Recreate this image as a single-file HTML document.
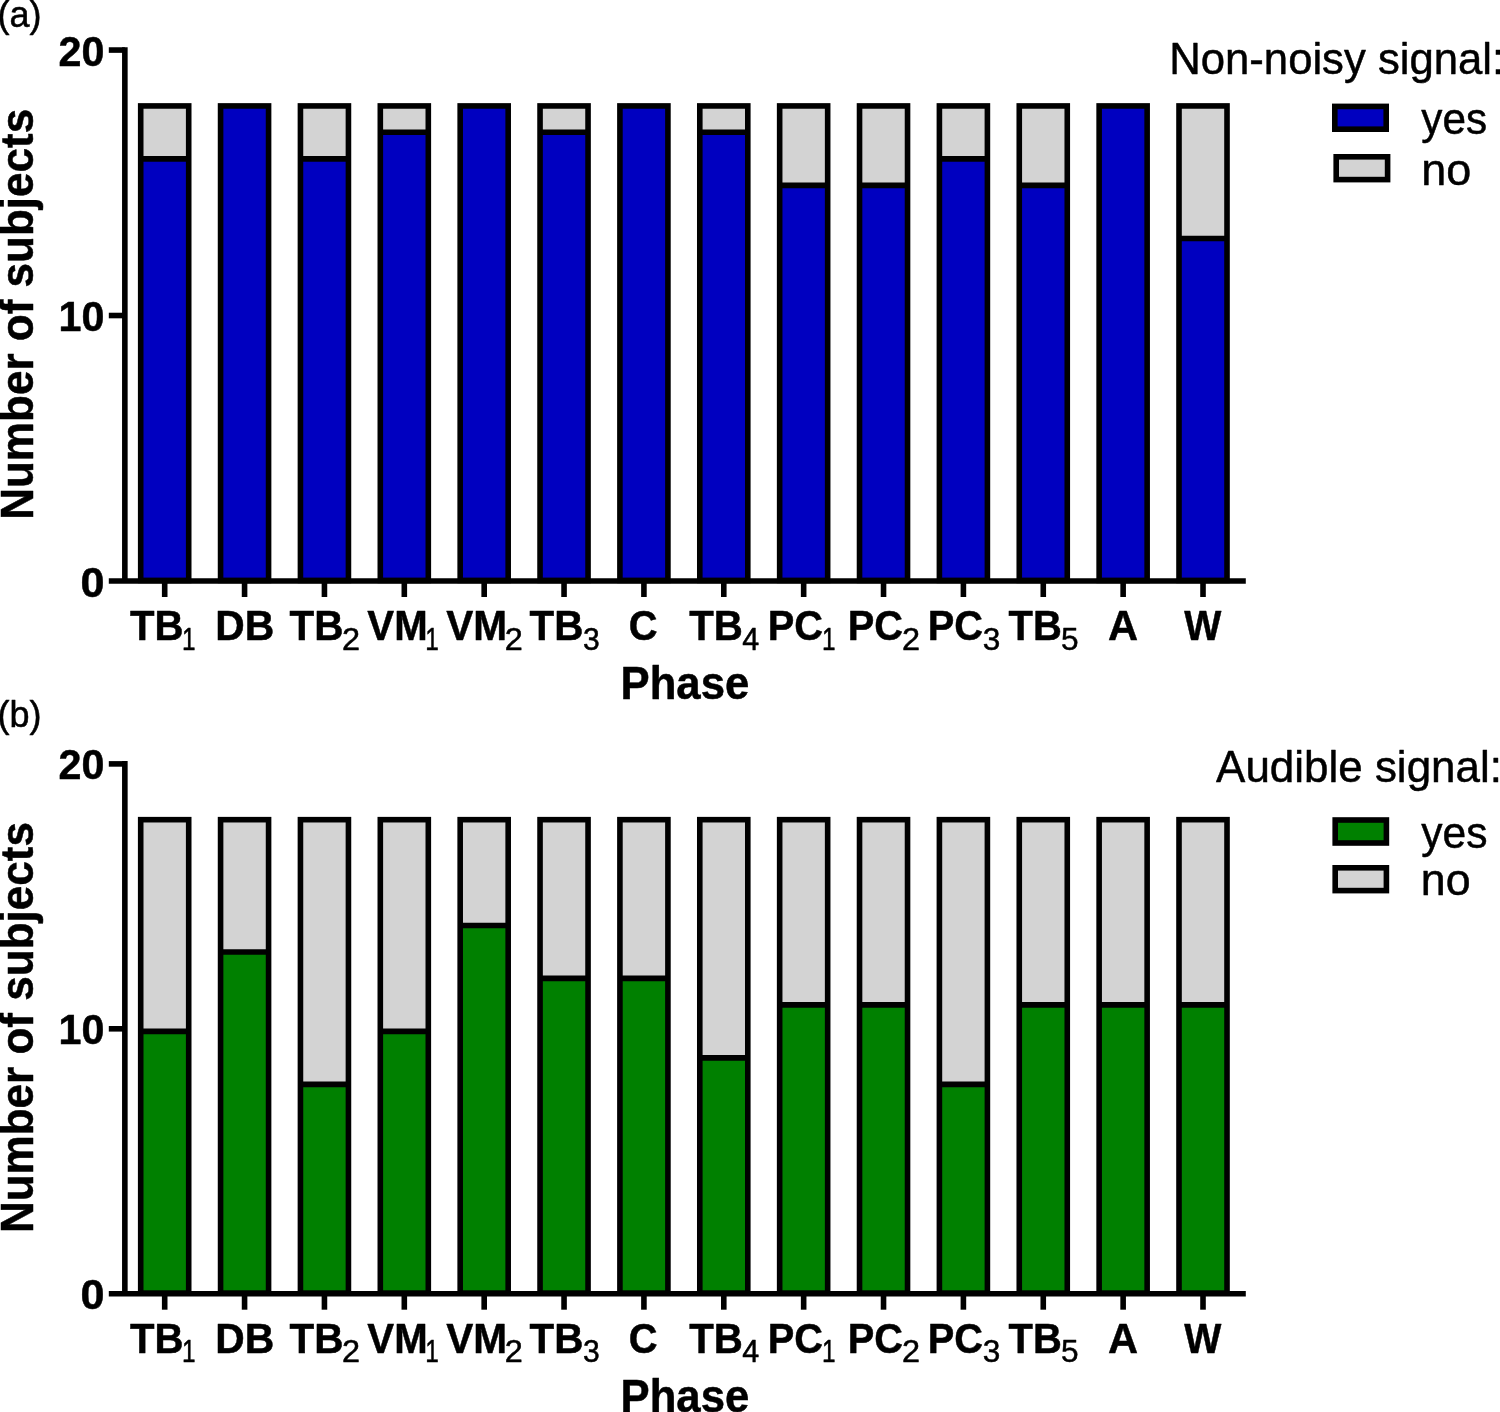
<!DOCTYPE html>
<html><head><meta charset="utf-8"><title>Figure</title>
<style>
html,body{margin:0;padding:0;background:#fff;}
svg{display:block}
text{font-family:"Liberation Sans",Arial,Helvetica,sans-serif;fill:#000}
.b{font-weight:bold;stroke:#000;stroke-width:0.5px;stroke-linejoin:round}
.r{font-weight:normal;stroke:#000;stroke-width:0.5px;stroke-linejoin:round}
</style></head><body>
<svg width="1500" height="1412" viewBox="0 0 1500 1412">
<rect width="1500" height="1412" fill="#fff"/>
<rect x="140.70" y="105.94" width="48.00" height="52.90" fill="#d3d3d3"/>
<rect x="140.70" y="158.84" width="48.00" height="421.56" fill="#0000c0"/>
<path d="M140.70 158.84H188.70" stroke="#000" stroke-width="5.6" fill="none"/>
<rect x="140.70" y="105.94" width="48.00" height="474.46" fill="none" stroke="#000" stroke-width="5.6"/>
<rect x="220.57" y="105.94" width="48.00" height="474.46" fill="#0000c0" stroke="#000" stroke-width="5.6"/>
<rect x="300.44" y="105.94" width="48.00" height="52.90" fill="#d3d3d3"/>
<rect x="300.44" y="158.84" width="48.00" height="421.56" fill="#0000c0"/>
<path d="M300.44 158.84H348.44" stroke="#000" stroke-width="5.6" fill="none"/>
<rect x="300.44" y="105.94" width="48.00" height="474.46" fill="none" stroke="#000" stroke-width="5.6"/>
<rect x="380.31" y="105.94" width="48.00" height="26.35" fill="#d3d3d3"/>
<rect x="380.31" y="132.29" width="48.00" height="448.11" fill="#0000c0"/>
<path d="M380.31 132.29H428.31" stroke="#000" stroke-width="5.6" fill="none"/>
<rect x="380.31" y="105.94" width="48.00" height="474.46" fill="none" stroke="#000" stroke-width="5.6"/>
<rect x="460.18" y="105.94" width="48.00" height="474.46" fill="#0000c0" stroke="#000" stroke-width="5.6"/>
<rect x="540.05" y="105.94" width="48.00" height="26.35" fill="#d3d3d3"/>
<rect x="540.05" y="132.29" width="48.00" height="448.11" fill="#0000c0"/>
<path d="M540.05 132.29H588.05" stroke="#000" stroke-width="5.6" fill="none"/>
<rect x="540.05" y="105.94" width="48.00" height="474.46" fill="none" stroke="#000" stroke-width="5.6"/>
<rect x="619.92" y="105.94" width="48.00" height="474.46" fill="#0000c0" stroke="#000" stroke-width="5.6"/>
<rect x="699.79" y="105.94" width="48.00" height="26.35" fill="#d3d3d3"/>
<rect x="699.79" y="132.29" width="48.00" height="448.11" fill="#0000c0"/>
<path d="M699.79 132.29H747.79" stroke="#000" stroke-width="5.6" fill="none"/>
<rect x="699.79" y="105.94" width="48.00" height="474.46" fill="none" stroke="#000" stroke-width="5.6"/>
<rect x="779.66" y="105.94" width="48.00" height="79.44" fill="#d3d3d3"/>
<rect x="779.66" y="185.39" width="48.00" height="395.01" fill="#0000c0"/>
<path d="M779.66 185.39H827.66" stroke="#000" stroke-width="5.6" fill="none"/>
<rect x="779.66" y="105.94" width="48.00" height="474.46" fill="none" stroke="#000" stroke-width="5.6"/>
<rect x="859.53" y="105.94" width="48.00" height="79.44" fill="#d3d3d3"/>
<rect x="859.53" y="185.39" width="48.00" height="395.01" fill="#0000c0"/>
<path d="M859.53 185.39H907.53" stroke="#000" stroke-width="5.6" fill="none"/>
<rect x="859.53" y="105.94" width="48.00" height="474.46" fill="none" stroke="#000" stroke-width="5.6"/>
<rect x="939.40" y="105.94" width="48.00" height="52.90" fill="#d3d3d3"/>
<rect x="939.40" y="158.84" width="48.00" height="421.56" fill="#0000c0"/>
<path d="M939.40 158.84H987.40" stroke="#000" stroke-width="5.6" fill="none"/>
<rect x="939.40" y="105.94" width="48.00" height="474.46" fill="none" stroke="#000" stroke-width="5.6"/>
<rect x="1019.27" y="105.94" width="48.00" height="79.44" fill="#d3d3d3"/>
<rect x="1019.27" y="185.39" width="48.00" height="395.01" fill="#0000c0"/>
<path d="M1019.27 185.39H1067.27" stroke="#000" stroke-width="5.6" fill="none"/>
<rect x="1019.27" y="105.94" width="48.00" height="474.46" fill="none" stroke="#000" stroke-width="5.6"/>
<rect x="1099.14" y="105.94" width="48.00" height="474.46" fill="#0000c0" stroke="#000" stroke-width="5.6"/>
<rect x="1179.01" y="105.94" width="48.00" height="132.54" fill="#d3d3d3"/>
<rect x="1179.01" y="238.48" width="48.00" height="341.92" fill="#0000c0"/>
<path d="M1179.01 238.48H1227.01" stroke="#000" stroke-width="5.6" fill="none"/>
<rect x="1179.01" y="105.94" width="48.00" height="474.46" fill="none" stroke="#000" stroke-width="5.6"/>
<path d="M124.85 47.25V581.0" stroke="#000" stroke-width="5.6" fill="none"/>
<path d="M108.8 581.0H1245.8" stroke="#000" stroke-width="5.6" fill="none"/>
<path d="M108.8 315.52H124.85" stroke="#000" stroke-width="5.6" fill="none"/>
<path d="M108.8 50.05H124.85" stroke="#000" stroke-width="5.6" fill="none"/>
<text transform="translate(80.42 596.60) scale(1.0283 1)" class="b" font-size="42">0</text>
<text transform="translate(58.44 331.12) scale(0.9830 1)" class="b" font-size="42">10</text>
<text transform="translate(58.50 65.65) scale(0.9817 1)" class="b" font-size="42">20</text>
<path d="M164.70 581.0V597.00" stroke="#000" stroke-width="5.6" fill="none"/>
<text transform="translate(129.96 640.00) scale(0.9324 1)" class="b" font-size="43">TB</text>
<text transform="translate(181.93 649.60) scale(0.8000 1)" class="r" font-size="30.5">1</text>
<path d="M244.57 581.0V597.00" stroke="#000" stroke-width="5.6" fill="none"/>
<text transform="translate(215.28 640.00) scale(0.9491 1)" class="b" font-size="43">DB</text>
<path d="M324.44 581.0V597.00" stroke="#000" stroke-width="5.6" fill="none"/>
<text transform="translate(289.60 640.00) scale(0.9397 1)" class="b" font-size="43">TB</text>
<text transform="translate(342.02 649.60) scale(1.0641 1)" class="r" font-size="30.5">2</text>
<path d="M404.31 581.0V597.00" stroke="#000" stroke-width="5.6" fill="none"/>
<text transform="translate(367.37 640.00) scale(0.9348 1)" class="b" font-size="43">VM</text>
<text transform="translate(425.14 649.60) scale(0.8000 1)" class="r" font-size="30.5">1</text>
<path d="M484.18 581.0V597.00" stroke="#000" stroke-width="5.6" fill="none"/>
<text transform="translate(446.14 640.00) scale(0.9446 1)" class="b" font-size="43">VM</text>
<text transform="translate(504.76 649.60) scale(1.0641 1)" class="r" font-size="30.5">2</text>
<path d="M564.05 581.0V597.00" stroke="#000" stroke-width="5.6" fill="none"/>
<text transform="translate(529.61 640.00) scale(0.9379 1)" class="b" font-size="43">TB</text>
<text transform="translate(582.91 649.60) scale(0.9871 1)" class="r" font-size="30.5">3</text>
<path d="M643.92 581.0V597.00" stroke="#000" stroke-width="5.6" fill="none"/>
<text transform="translate(628.78 640.00) scale(0.9281 1)" class="b" font-size="43">C</text>
<path d="M723.79 581.0V597.00" stroke="#000" stroke-width="5.6" fill="none"/>
<text transform="translate(689.15 640.00) scale(0.9361 1)" class="b" font-size="43">TB</text>
<text transform="translate(742.32 649.60) scale(0.9998 1)" class="r" font-size="30.5">4</text>
<path d="M803.66 581.0V597.00" stroke="#000" stroke-width="5.6" fill="none"/>
<text transform="translate(767.73 640.00) scale(0.9259 1)" class="b" font-size="43">PC</text>
<text transform="translate(822.09 649.60) scale(0.8000 1)" class="r" font-size="30.5">1</text>
<path d="M883.53 581.0V597.00" stroke="#000" stroke-width="5.6" fill="none"/>
<text transform="translate(847.80 640.00) scale(0.9259 1)" class="b" font-size="43">PC</text>
<text transform="translate(902.01 649.60) scale(1.0641 1)" class="r" font-size="30.5">2</text>
<path d="M963.40 581.0V597.00" stroke="#000" stroke-width="5.6" fill="none"/>
<text transform="translate(927.77 640.00) scale(0.9259 1)" class="b" font-size="43">PC</text>
<text transform="translate(982.80 649.60) scale(1.0354 1)" class="r" font-size="30.5">3</text>
<path d="M1043.27 581.0V597.00" stroke="#000" stroke-width="5.6" fill="none"/>
<text transform="translate(1008.53 640.00) scale(0.9288 1)" class="b" font-size="43">TB</text>
<text transform="translate(1061.11 649.60) scale(1.0354 1)" class="r" font-size="30.5">5</text>
<path d="M1123.14 581.0V597.00" stroke="#000" stroke-width="5.6" fill="none"/>
<text transform="translate(1108.04 640.00) scale(0.9690 1)" class="b" font-size="43">A</text>
<path d="M1203.01 581.0V597.00" stroke="#000" stroke-width="5.6" fill="none"/>
<text transform="translate(1184.27 640.00) scale(0.9134 1)" class="b" font-size="43">W</text>
<text transform="translate(620.52 698.80) scale(0.9607 1)" class="b" font-size="45.5">Phase</text>
<text transform="translate(33.40 519.83) rotate(-90) scale(0.9678 1)" class="b" font-size="45.5">Number of subjects</text>
<text transform="translate(-2.50 26.90)" class="r" font-size="36">(a)</text>
<text transform="translate(1169.22 73.80) scale(0.9706 1)" class="r" font-size="45">Non-noisy signal:</text>
<rect x="1334.80" y="106.40" width="51.40" height="22.80" fill="#0000c0" stroke="#000" stroke-width="5.6"/>
<rect x="1336.20" y="156.80" width="51.40" height="22.80" fill="#d3d3d3" stroke="#000" stroke-width="5.6"/>
<text transform="translate(1421.32 134.00) scale(0.9504 1)" class="r" font-size="44.5">yes</text>
<text transform="translate(1421.23 184.70) scale(1.0107 1)" class="r" font-size="44.5">no</text>
<rect x="140.70" y="819.68" width="48.00" height="211.72" fill="#d3d3d3"/>
<rect x="140.70" y="1031.40" width="48.00" height="261.70" fill="#008000"/>
<path d="M140.70 1031.40H188.70" stroke="#000" stroke-width="5.6" fill="none"/>
<rect x="140.70" y="819.68" width="48.00" height="473.42" fill="none" stroke="#000" stroke-width="5.6"/>
<rect x="220.57" y="819.68" width="48.00" height="132.25" fill="#d3d3d3"/>
<rect x="220.57" y="951.93" width="48.00" height="341.17" fill="#008000"/>
<path d="M220.57 951.93H268.57" stroke="#000" stroke-width="5.6" fill="none"/>
<rect x="220.57" y="819.68" width="48.00" height="473.42" fill="none" stroke="#000" stroke-width="5.6"/>
<rect x="300.44" y="819.68" width="48.00" height="264.70" fill="#d3d3d3"/>
<rect x="300.44" y="1084.38" width="48.00" height="208.72" fill="#008000"/>
<path d="M300.44 1084.38H348.44" stroke="#000" stroke-width="5.6" fill="none"/>
<rect x="300.44" y="819.68" width="48.00" height="473.42" fill="none" stroke="#000" stroke-width="5.6"/>
<rect x="380.31" y="819.68" width="48.00" height="211.72" fill="#d3d3d3"/>
<rect x="380.31" y="1031.40" width="48.00" height="261.70" fill="#008000"/>
<path d="M380.31 1031.40H428.31" stroke="#000" stroke-width="5.6" fill="none"/>
<rect x="380.31" y="819.68" width="48.00" height="473.42" fill="none" stroke="#000" stroke-width="5.6"/>
<rect x="460.18" y="819.68" width="48.00" height="105.76" fill="#d3d3d3"/>
<rect x="460.18" y="925.44" width="48.00" height="367.66" fill="#008000"/>
<path d="M460.18 925.44H508.18" stroke="#000" stroke-width="5.6" fill="none"/>
<rect x="460.18" y="819.68" width="48.00" height="473.42" fill="none" stroke="#000" stroke-width="5.6"/>
<rect x="540.05" y="819.68" width="48.00" height="158.74" fill="#d3d3d3"/>
<rect x="540.05" y="978.42" width="48.00" height="314.68" fill="#008000"/>
<path d="M540.05 978.42H588.05" stroke="#000" stroke-width="5.6" fill="none"/>
<rect x="540.05" y="819.68" width="48.00" height="473.42" fill="none" stroke="#000" stroke-width="5.6"/>
<rect x="619.92" y="819.68" width="48.00" height="158.74" fill="#d3d3d3"/>
<rect x="619.92" y="978.42" width="48.00" height="314.68" fill="#008000"/>
<path d="M619.92 978.42H667.92" stroke="#000" stroke-width="5.6" fill="none"/>
<rect x="619.92" y="819.68" width="48.00" height="473.42" fill="none" stroke="#000" stroke-width="5.6"/>
<rect x="699.79" y="819.68" width="48.00" height="238.21" fill="#d3d3d3"/>
<rect x="699.79" y="1057.89" width="48.00" height="235.21" fill="#008000"/>
<path d="M699.79 1057.89H747.79" stroke="#000" stroke-width="5.6" fill="none"/>
<rect x="699.79" y="819.68" width="48.00" height="473.42" fill="none" stroke="#000" stroke-width="5.6"/>
<rect x="779.66" y="819.68" width="48.00" height="185.23" fill="#d3d3d3"/>
<rect x="779.66" y="1004.91" width="48.00" height="288.19" fill="#008000"/>
<path d="M779.66 1004.91H827.66" stroke="#000" stroke-width="5.6" fill="none"/>
<rect x="779.66" y="819.68" width="48.00" height="473.42" fill="none" stroke="#000" stroke-width="5.6"/>
<rect x="859.53" y="819.68" width="48.00" height="185.23" fill="#d3d3d3"/>
<rect x="859.53" y="1004.91" width="48.00" height="288.19" fill="#008000"/>
<path d="M859.53 1004.91H907.53" stroke="#000" stroke-width="5.6" fill="none"/>
<rect x="859.53" y="819.68" width="48.00" height="473.42" fill="none" stroke="#000" stroke-width="5.6"/>
<rect x="939.40" y="819.68" width="48.00" height="264.70" fill="#d3d3d3"/>
<rect x="939.40" y="1084.38" width="48.00" height="208.72" fill="#008000"/>
<path d="M939.40 1084.38H987.40" stroke="#000" stroke-width="5.6" fill="none"/>
<rect x="939.40" y="819.68" width="48.00" height="473.42" fill="none" stroke="#000" stroke-width="5.6"/>
<rect x="1019.27" y="819.68" width="48.00" height="185.23" fill="#d3d3d3"/>
<rect x="1019.27" y="1004.91" width="48.00" height="288.19" fill="#008000"/>
<path d="M1019.27 1004.91H1067.27" stroke="#000" stroke-width="5.6" fill="none"/>
<rect x="1019.27" y="819.68" width="48.00" height="473.42" fill="none" stroke="#000" stroke-width="5.6"/>
<rect x="1099.14" y="819.68" width="48.00" height="185.23" fill="#d3d3d3"/>
<rect x="1099.14" y="1004.91" width="48.00" height="288.19" fill="#008000"/>
<path d="M1099.14 1004.91H1147.14" stroke="#000" stroke-width="5.6" fill="none"/>
<rect x="1099.14" y="819.68" width="48.00" height="473.42" fill="none" stroke="#000" stroke-width="5.6"/>
<rect x="1179.01" y="819.68" width="48.00" height="185.23" fill="#d3d3d3"/>
<rect x="1179.01" y="1004.91" width="48.00" height="288.19" fill="#008000"/>
<path d="M1179.01 1004.91H1227.01" stroke="#000" stroke-width="5.6" fill="none"/>
<rect x="1179.01" y="819.68" width="48.00" height="473.42" fill="none" stroke="#000" stroke-width="5.6"/>
<path d="M124.85 761.10V1293.7" stroke="#000" stroke-width="5.6" fill="none"/>
<path d="M108.8 1293.7H1245.8" stroke="#000" stroke-width="5.6" fill="none"/>
<path d="M108.8 1028.80H124.85" stroke="#000" stroke-width="5.6" fill="none"/>
<path d="M108.8 763.90H124.85" stroke="#000" stroke-width="5.6" fill="none"/>
<text transform="translate(80.42 1309.00) scale(1.0283 1)" class="b" font-size="42">0</text>
<text transform="translate(58.44 1044.10) scale(0.9830 1)" class="b" font-size="42">10</text>
<text transform="translate(58.50 779.20) scale(0.9817 1)" class="b" font-size="42">20</text>
<path d="M164.70 1293.7V1309.70" stroke="#000" stroke-width="5.6" fill="none"/>
<text transform="translate(129.96 1352.70) scale(0.9324 1)" class="b" font-size="43">TB</text>
<text transform="translate(181.93 1362.30) scale(0.8000 1)" class="r" font-size="30.5">1</text>
<path d="M244.57 1293.7V1309.70" stroke="#000" stroke-width="5.6" fill="none"/>
<text transform="translate(215.28 1352.70) scale(0.9491 1)" class="b" font-size="43">DB</text>
<path d="M324.44 1293.7V1309.70" stroke="#000" stroke-width="5.6" fill="none"/>
<text transform="translate(289.60 1352.70) scale(0.9397 1)" class="b" font-size="43">TB</text>
<text transform="translate(342.02 1362.30) scale(1.0641 1)" class="r" font-size="30.5">2</text>
<path d="M404.31 1293.7V1309.70" stroke="#000" stroke-width="5.6" fill="none"/>
<text transform="translate(367.37 1352.70) scale(0.9348 1)" class="b" font-size="43">VM</text>
<text transform="translate(425.14 1362.30) scale(0.8000 1)" class="r" font-size="30.5">1</text>
<path d="M484.18 1293.7V1309.70" stroke="#000" stroke-width="5.6" fill="none"/>
<text transform="translate(446.14 1352.70) scale(0.9446 1)" class="b" font-size="43">VM</text>
<text transform="translate(504.76 1362.30) scale(1.0641 1)" class="r" font-size="30.5">2</text>
<path d="M564.05 1293.7V1309.70" stroke="#000" stroke-width="5.6" fill="none"/>
<text transform="translate(529.61 1352.70) scale(0.9379 1)" class="b" font-size="43">TB</text>
<text transform="translate(582.91 1362.30) scale(0.9871 1)" class="r" font-size="30.5">3</text>
<path d="M643.92 1293.7V1309.70" stroke="#000" stroke-width="5.6" fill="none"/>
<text transform="translate(628.78 1352.70) scale(0.9281 1)" class="b" font-size="43">C</text>
<path d="M723.79 1293.7V1309.70" stroke="#000" stroke-width="5.6" fill="none"/>
<text transform="translate(689.15 1352.70) scale(0.9361 1)" class="b" font-size="43">TB</text>
<text transform="translate(742.32 1362.30) scale(0.9998 1)" class="r" font-size="30.5">4</text>
<path d="M803.66 1293.7V1309.70" stroke="#000" stroke-width="5.6" fill="none"/>
<text transform="translate(767.73 1352.70) scale(0.9259 1)" class="b" font-size="43">PC</text>
<text transform="translate(822.09 1362.30) scale(0.8000 1)" class="r" font-size="30.5">1</text>
<path d="M883.53 1293.7V1309.70" stroke="#000" stroke-width="5.6" fill="none"/>
<text transform="translate(847.80 1352.70) scale(0.9259 1)" class="b" font-size="43">PC</text>
<text transform="translate(902.01 1362.30) scale(1.0641 1)" class="r" font-size="30.5">2</text>
<path d="M963.40 1293.7V1309.70" stroke="#000" stroke-width="5.6" fill="none"/>
<text transform="translate(927.77 1352.70) scale(0.9259 1)" class="b" font-size="43">PC</text>
<text transform="translate(982.80 1362.30) scale(1.0354 1)" class="r" font-size="30.5">3</text>
<path d="M1043.27 1293.7V1309.70" stroke="#000" stroke-width="5.6" fill="none"/>
<text transform="translate(1008.53 1352.70) scale(0.9288 1)" class="b" font-size="43">TB</text>
<text transform="translate(1061.11 1362.30) scale(1.0354 1)" class="r" font-size="30.5">5</text>
<path d="M1123.14 1293.7V1309.70" stroke="#000" stroke-width="5.6" fill="none"/>
<text transform="translate(1108.04 1352.70) scale(0.9690 1)" class="b" font-size="43">A</text>
<path d="M1203.01 1293.7V1309.70" stroke="#000" stroke-width="5.6" fill="none"/>
<text transform="translate(1184.27 1352.70) scale(0.9134 1)" class="b" font-size="43">W</text>
<text transform="translate(620.52 1411.50) scale(0.9607 1)" class="b" font-size="45.5">Phase</text>
<text transform="translate(33.40 1233.11) rotate(-90) scale(0.9678 1)" class="b" font-size="45.5">Number of subjects</text>
<text transform="translate(-2.50 727.00)" class="r" font-size="36">(b)</text>
<text transform="translate(1216.11 782.00) scale(0.9766 1)" class="r" font-size="45">Audible signal:</text>
<rect x="1335.20" y="820.00" width="51.20" height="23.00" fill="#008000" stroke="#000" stroke-width="5.6"/>
<rect x="1335.20" y="867.80" width="51.20" height="22.80" fill="#d3d3d3" stroke="#000" stroke-width="5.6"/>
<text transform="translate(1421.31 847.60) scale(0.9563 1)" class="r" font-size="44.5">yes</text>
<text transform="translate(1420.84 895.30) scale(1.0062 1)" class="r" font-size="44.5">no</text>
</svg>
</body></html>
